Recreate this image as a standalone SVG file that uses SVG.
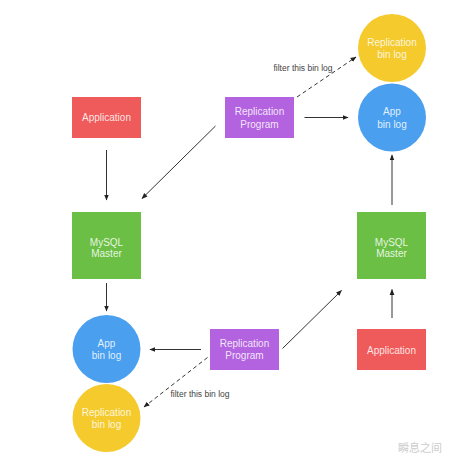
<svg xmlns="http://www.w3.org/2000/svg" width="474" height="470" viewBox="0 0 474 470">
<defs>
<marker id="ah" viewBox="0 0 10 10" refX="9" refY="5" markerWidth="6" markerHeight="6" orient="auto" markerUnits="userSpaceOnUse">
<path d="M0,1 L10,5 L0,9 z" fill="#222"/>
</marker>
<style>
.t{font-family:"Liberation Sans",Arial,sans-serif;font-size:10px;fill:#ffffff;fill-opacity:0.85;text-anchor:middle}
.lbl{font-family:"Liberation Sans",Arial,sans-serif;font-size:8.5px;fill:#444;text-anchor:middle}
.c{stroke:#333;stroke-width:1;fill:none;marker-end:url(#ah)}
.d{stroke-dasharray:4,3}
.app{fill:#ef5b5b}
.rp{fill:#b363df}
.my{fill:#6bbf45}
.ab{fill:#4aa0ef}
.rb{fill:#f4ca2c}
</style>
</defs>
<rect width="474" height="470" fill="#ffffff"/>
<g id="connectors">
<line class="c" x1="106.5" y1="150" x2="106.5" y2="200"/>
<line class="c" x1="215.5" y1="126" x2="142" y2="198.5"/>
<line class="c" x1="106.5" y1="283" x2="106.5" y2="311"/>
<line class="c" x1="201" y1="349.5" x2="150" y2="349.5"/>
<line class="c d" x1="207.5" y1="357.5" x2="144" y2="407"/>
<line class="c" x1="282.5" y1="348.5" x2="341.5" y2="290.5"/>
<line class="c" x1="392" y1="318" x2="392" y2="289.5"/>
<line class="c" x1="392" y1="205" x2="392" y2="155"/>
<line class="c" x1="304.5" y1="117.5" x2="348" y2="117.5"/>
<line class="c d" x1="297" y1="97" x2="356" y2="57"/>
<text class="lbl" x="303" y="71">filter this bin log</text>
<text class="lbl" x="200" y="397">filter this bin log</text>
</g>
<g id="app-left"><rect class="app" x="72" y="97" width="69" height="41"/><text class="t" x="106.5" y="121">Application</text></g>
<g id="mysql-left"><rect class="my" x="72" y="212" width="69" height="67"/><text class="t" x="106.5" y="246">MySQL</text><text class="t" x="106.5" y="257">Master</text></g>
<g id="appbin-left"><circle class="ab" cx="106.5" cy="349" r="34"/><text class="t" x="106.5" y="347">App</text><text class="t" x="106.5" y="359">bin log</text></g>
<g id="replbin-left"><circle class="rb" cx="106.5" cy="418" r="34"/><text class="t" x="106.5" y="415.5">Replication</text><text class="t" x="106.5" y="427.5">bin log</text></g>
<g id="rp-bottom"><rect class="rp" x="210" y="329" width="69" height="41"/><text class="t" x="244.5" y="347">Replication</text><text class="t" x="244.5" y="359">Program</text></g>
<g id="rp-top"><rect class="rp" x="225" y="97" width="69" height="41"/><text class="t" x="259.5" y="115">Replication</text><text class="t" x="259.5" y="127.5">Program</text></g>
<g id="replbin-right"><circle class="rb" cx="392" cy="48" r="34"/><text class="t" x="392" y="46">Replication</text><text class="t" x="392" y="58">bin log</text></g>
<g id="appbin-right"><circle class="ab" cx="392" cy="117.5" r="34"/><text class="t" x="392" y="115">App</text><text class="t" x="392" y="127.5">bin log</text></g>
<g id="mysql-right"><rect class="my" x="357" y="212" width="69" height="67"/><text class="t" x="391.5" y="246">MySQL</text><text class="t" x="391.5" y="257">Master</text></g>
<g id="app-right"><rect class="app" x="357" y="329" width="69" height="41"/><text class="t" x="391.5" y="353.5">Application</text></g>
<text x="398" y="452" font-family="Noto Sans CJK SC, sans-serif" font-size="11" fill="#cccccc">瞬息之间</text>
</svg>
